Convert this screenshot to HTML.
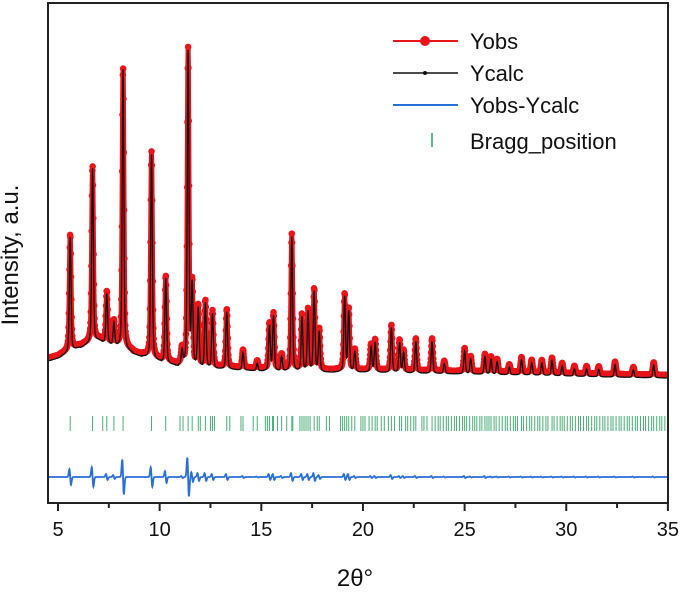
<!DOCTYPE html>
<html><head><meta charset="utf-8"><style>
html,body{margin:0;padding:0;background:#fff;}
svg{display:block;font-family:"Liberation Sans",Arial,sans-serif;}
</style></head><body>
<svg id="chart" width="685" height="597" viewBox="0 0 685 597">
<rect x="0" y="0" width="685" height="597" fill="#fff"/>
<g id="plot"></g>
<rect x="48" y="3" width="620" height="500" fill="none" stroke="#222" stroke-width="2"/>
<g id="xaxis"></g>
<text x="18" y="255" transform="rotate(-90 18 255)" text-anchor="middle" font-size="24" fill="#111">Intensity, a.u.</text>
<text x="355" y="586" text-anchor="middle" font-size="24" fill="#111">2θ°</text>
<g>
 <g>
  <line x1="393" y1="41" x2="458" y2="41" stroke="#e8151b" stroke-width="2"/>
  <circle cx="425" cy="41" r="5" fill="#e8151b"/>
  <text x="470" y="49" font-size="22" fill="#111">Yobs</text></g>
 <g>
  <line x1="393" y1="73" x2="458" y2="73" stroke="#111" stroke-width="1.5"/>
  <circle cx="425" cy="73" r="2" fill="#111"/>
  <text x="470" y="81" font-size="22" fill="#111">Ycalc</text></g>
 <g>
  <line x1="393" y1="105" x2="458" y2="105" stroke="#2a6fd6" stroke-width="2"/>
  <text x="470" y="113" font-size="22" fill="#111">Yobs-Ycalc</text></g>
 <g>
  <line x1="432" y1="133" x2="432" y2="147" stroke="#2aa060" stroke-width="1.5"/>
  <text x="470" y="149" font-size="22" fill="#111">Bragg_position</text></g>
</g>
</svg>
<script>
// Data
const xTicks = [5,10,15,20,25,30,35];
const bgX = [4.6,5,6,7,8,9,10,11,12,13,14,15,16,18,20,22,25,28,30,32,35];
const bgI = [29.5,30,32,33.4,32,30.5,29.2,28.4,28,27.8,27.6,27.4,27.3,27.2,27.2,27,26.8,26.6,26.4,26.2,26];
const peakPos = [5.6,6.7,7.4,7.75,8.2,9.6,10.3,11.1,11.4,11.6,11.9,12.25,12.6,13.3,14.1,14.8,15.4,15.6,16.0,16.5,17.0,17.3,17.6,17.85,19.1,19.3,19.6,20.4,20.6,21.4,21.8,22.0,22.6,23.4,24.0,25.0,25.3,26.0,26.3,26.6,27.2,27.8,28.3,28.8,29.3,29.8,30.4,31.0,31.6,32.4,33.3,34.3];
const peakI  = [23,35,10,4.5,56,41,17,3,63,16,12,13,11,11.5,3.5,1.5,9,11,3,27,11,12,16,8,15,12,4,5,6,9,6,4,6.4,6.4,2,4.6,3,3.5,3,2.5,1.5,3,2.5,2.5,3,2,1.5,1.5,1.5,2.5,1.5,2.5];
const diffAmp = [8,10,3,2,18,10,6,1,20,5,4,4,3,3,1,0.5,3,3,1,4,3,3,4,2,3,3,1,1,1,2,1,1,1,1,0.5,1,0.5,1,0.5,0.5,0.5,0.5,0.5,0.5,0.5,0.5,0.5,0.5,0.5,0.5,0.5,0.5];
const braggPos = [5.6,6.7,7.2,7.4,7.75,8.2,9.6,10.3,11.0,11.15,11.4,11.6,11.9,12.0,12.25,12.5,12.6,12.7,13.3,13.45,14.0,14.1,14.6,14.8,15.2,15.3,15.4,15.55,15.6,15.8,16.0,16.25,16.5,16.55,16.9,17.0,17.1,17.2,17.3,17.4,17.6,17.75,17.85,18.2,18.35,18.9,19.0,19.1,19.2,19.3,19.45,19.6,19.9,20.0,20.1,20.3,20.45,20.6,20.7,20.9,21.05,21.25,21.4,21.55,21.8,21.9,22.1,22.2,22.35,22.5,22.6,22.9,23.0,23.15,23.4,23.55,23.7,23.8,23.95,24.1,24.2,24.35,24.5,24.6,24.75,24.9,25.0,25.1,25.25,25.4,25.5,25.6,25.75,25.85,26.0,26.1,26.2,26.3,26.45,26.55,26.7,26.85,27.0,27.1,27.25,27.4,27.5,27.6,27.8,27.9,28.05,28.2,28.3,28.45,28.6,28.7,28.85,29.0,29.1,29.3,29.4,29.55,29.7,29.8,29.9,30.05,30.2,30.3,30.45,30.6,30.7,30.85,31.0,31.1,31.25,31.4,31.5,31.65,31.8,31.9,32.05,32.2,32.3,32.45,32.6,32.7,32.85,33.0,33.1,33.25,33.4,33.5,33.65,33.8,33.9,34.05,34.2,34.3,34.45,34.6,34.7,34.85];

// Scales
const X0=58, XPX=20.33;
function xs(v){return X0+(v-5)*XPX;}
function ys(i){return 508-i*5;}
const DIFF_Y=477, BRAGG_Y1=416, BRAGG_Y2=431;
function bg(x){
  if(x<=bgX[0])return bgI[0];
  for(let k=1;k<bgX.length;k++){ if(x<=bgX[k]){const t=(x-bgX[k-1])/(bgX[k]-bgX[k-1]);return bgI[k-1]+t*(bgI[k]-bgI[k-1]);} }
  return bgI[bgI.length-1];
}
const SIG=0.04;
function calc(x){let s=bg(x);for(let k=0;k<peakPos.length;k++){const d=(x-peakPos[k])/SIG;if(Math.abs(d)<12){s+=peakI[k]*(0.7*Math.exp(-0.5*d*d)+0.3/(1+d*d*0.5));}}return s;}
function diff(x){let s=0;for(let k=0;k<peakPos.length;k++){const d=(x-peakPos[k])/SIG;if(Math.abs(d)<6){s+=-diffAmp[k]*d*Math.exp(-0.5*d*d)*1.6;}}return s;}

const NS='http://www.w3.org/2000/svg';
const plot=document.getElementById('plot');
function mk(tag,attrs,parent){const e=document.createElementNS(NS,tag);for(const k in attrs)e.setAttribute(k,attrs[k]);parent.appendChild(e);return e;}

const clipDefs=mk('defs',{},plot);
const cp=mk('clipPath',{id:'clip'},clipDefs);
mk('rect',{x:49,y:4,width:618,height:498},cp);
const g=mk('g',{'clip-path':'url(#clip)'},plot);

let obsPts=[],calcPts=[],diffPts=[];
for(let x=4.5;x<=35.2;x+=0.01){
  const c=calc(x);
  calcPts.push(xs(x).toFixed(2)+','+ys(c).toFixed(2));
  diffPts.push(xs(x).toFixed(2)+','+(DIFF_Y-diff(x)).toFixed(2));
}
for(let x=4.5;x<=35.2;x+=0.015){
  obsPts.push([xs(x),ys(calc(x)+0.6)]);
}
const obsLine=mk('polyline',{points:obsPts.map(p=>p[0].toFixed(2)+','+p[1].toFixed(2)).join(' '),fill:'none',stroke:'#e8151b','stroke-width':5,'stroke-linejoin':'round'},g);


const obsG=mk('g',{fill:'#e8151b'},g);


obsPts.forEach(p=>{mk('circle',{cx:p[0].toFixed(2),cy:p[1].toFixed(2),r:3.3},obsG);});
const calcLine=mk('polyline',{points:calcPts.join(' '),fill:'none',stroke:'#111','stroke-width':1.3},g);


const bG=mk('g',{stroke:'#2aa060','stroke-width':1,'stroke-opacity':0.85},g);


braggPos.forEach(b=>{mk('line',{x1:xs(b).toFixed(2),x2:xs(b).toFixed(2),y1:BRAGG_Y1,y2:BRAGG_Y2},bG);});
const dLine=mk('polyline',{points:diffPts.join(' '),fill:'none',stroke:'#2a6fd6','stroke-width':1.8},g);



const xa=document.getElementById('xaxis');
for(let v=5;v<=35.001;v+=2.5){
  const major=Math.abs(v/5-Math.round(v/5))<1e-6;
  const t=mk('line',{x1:xs(v),x2:xs(v),y1:503,y2:major?511:508,stroke:'#222','stroke-width':2},xa);
  
  
}
xTicks.forEach(v=>{
  const t=mk('text',{x:xs(v),y:536,'text-anchor':'middle','font-size':20,fill:'#111'},xa);
  t.textContent=String(v);
  
  
});
</script>
</body></html>
